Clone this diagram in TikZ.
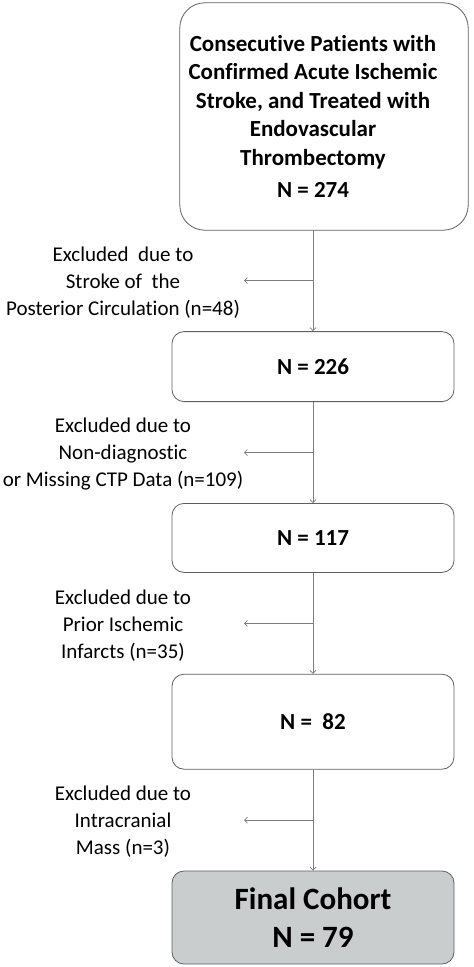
\documentclass[tikz,border=0pt]{standalone}
\usepackage{fontspec}
\setmainfont{Carlito}[Ligatures=NoCommon]
\usepackage{tikz}
\usetikzlibrary{arrows.meta,positioning}
\usepackage{xcolor}
\definecolor{boxgray}{RGB}{95,95,95}
\definecolor{linegray}{RGB}{125,125,125}
\definecolor{cohortfill}{RGB}{201,205,205}

\begin{document}
\begin{tikzpicture}[x=1pt, y=-1pt, >={Straight Barb[length=3pt,width=6pt]}, node distance=101pt,
  box/.style={draw=boxgray, line width=0.8pt, rounded corners=12pt, align=center, minimum width=282pt,
    inner sep=4pt, font=\fontsize{23}{28}\selectfont\bfseries},
  excl/.style={align=center, font=\fontsize{21}{27}\selectfont},
  flow/.style={->, draw=linegray, line width=0.7pt}]
\useasboundingbox (0,0) rectangle (474,967);
% study population
\node[align=center, minimum width=266pt, minimum height=227pt, inner sep=0pt,
  font=\fontsize{23}{28.5}\selectfont\bfseries] (start) at (313,116.5)
  {Consecutive Patients with\\Confirmed Acute Ischemic\\Stroke, and Treated with\\Endovascular\\Thrombectomy\\[4pt]N = 274};
\draw[boxgray, line width=0.8pt, rounded corners=25pt] (start.north west) rectangle ([xshift=22pt]start.south east);
\node[box, minimum height=70pt, below=of start] (n226) {N = 226};
\node[box, minimum height=69pt, below=of n226] (n117) {N = 117};
\node[box, minimum height=95pt, below=of n117] (n82) {N =\ \ 82};
\node[box, minimum height=93pt, fill=cohortfill, font=\fontsize{31}{38}\selectfont\bfseries, below=of n82] (final) {Final Cohort\\N = 79};
% main flow
\draw[flow] (start.south) -- coordinate (b1) (n226.north);
\draw[flow] (n226.south) -- coordinate (b2) (n117.north);
\draw[flow] (n117.south) -- coordinate (b3) (n82.north);
\draw[flow] (n82.south) -- coordinate (b4) (final.north);
% exclusions
\coordinate[left=69pt of b1] (t1);
\coordinate[left=69pt of b2] (t2);
\coordinate[left=69pt of b3] (t3);
\coordinate[left=69pt of b4] (t4);
\draw[flow] (b1) -- (t1);
\draw[flow] (b2) -- (t2);
\draw[flow] (b3) -- (t3);
\draw[flow] (b4) -- (t4);
\node[excl] (ex1) at ([xshift=-190pt, yshift=-2pt]b1) {Excluded\ \ due to\\Stroke of\ \ the\\Posterior Circulation (n=48)};
\node[excl] (ex2) at ([xshift=-190pt, yshift=-2pt]b2) {Excluded due to\\Non-diagnostic\\or Missing CTP Data (n=109)};
\node[excl] (ex3) at ([xshift=-190pt, yshift=-2pt]b3) {Excluded due to\\Prior Ischemic\\Infarcts (n=35)};
\node[excl] (ex4) at ([xshift=-190pt, yshift=-2pt]b4) {Excluded due to\\Intracranial\\Mass (n=3)};
\end{tikzpicture}
\end{document}
